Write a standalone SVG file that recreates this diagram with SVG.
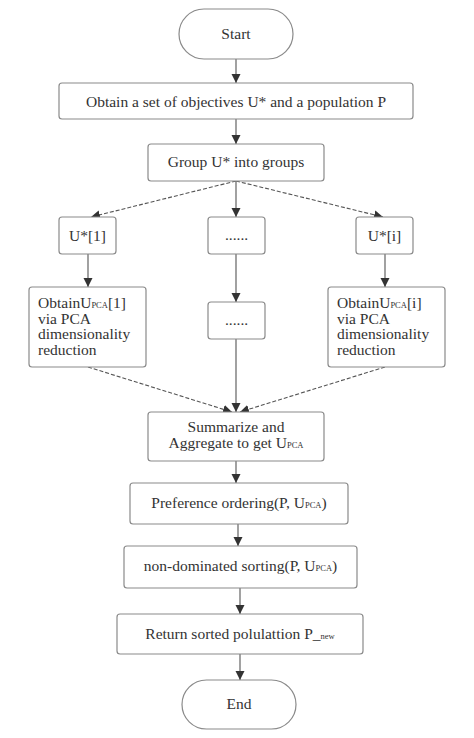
<svg xmlns="http://www.w3.org/2000/svg" width="474" height="738" viewBox="0 0 474 738">
<style>
.box{fill:#fff;stroke:#8a8a8a;stroke-width:1.2}
.t{font-family:"Liberation Serif","DejaVu Serif",serif;font-size:15.5px;fill:#333}
.c{text-anchor:middle}
.sub{font-size:8.5px}
.ln{fill:none;stroke:#555;stroke-width:1.1}
.dash{stroke-dasharray:4 2}
</style>
<defs>
<marker id="ah" markerWidth="10" markerHeight="10" refX="9" refY="5" orient="auto" markerUnits="userSpaceOnUse">
<path d="M0,0.5 L9,5 L0,9.5 Z" fill="#333"/>
</marker>
</defs>
<rect width="474" height="738" fill="#fff"/>
<g id="connectors">
<line class="ln" x1="236" y1="59" x2="236" y2="83" marker-end="url(#ah)"/>
<line class="ln" x1="236" y1="119" x2="236" y2="144" marker-end="url(#ah)"/>
<line class="ln dash" x1="236" y1="181" x2="91" y2="217" marker-end="url(#ah)"/>
<line class="ln" x1="236" y1="181" x2="236" y2="217" marker-end="url(#ah)"/>
<line class="ln dash" x1="236" y1="181" x2="383" y2="217" marker-end="url(#ah)"/>
<line class="ln" x1="88" y1="254" x2="88" y2="287" marker-end="url(#ah)"/>
<line class="ln" x1="236" y1="254" x2="236" y2="302" marker-end="url(#ah)"/>
<line class="ln" x1="385" y1="254" x2="385" y2="287" marker-end="url(#ah)"/>
<line class="ln dash" x1="88" y1="367" x2="232" y2="412" marker-end="url(#ah)"/>
<line class="ln" x1="236" y1="339" x2="236" y2="412" marker-end="url(#ah)"/>
<line class="ln dash" x1="385" y1="367" x2="240" y2="412" marker-end="url(#ah)"/>
<line class="ln" x1="236" y1="461" x2="236" y2="483" marker-end="url(#ah)"/>
<line class="ln" x1="238" y1="524" x2="238" y2="546" marker-end="url(#ah)"/>
<line class="ln" x1="240" y1="588" x2="240" y2="614" marker-end="url(#ah)"/>
<line class="ln" x1="240" y1="654" x2="240" y2="680" marker-end="url(#ah)"/>
</g>
<g id="start">
<rect class="box" x="179" y="9" width="114" height="50" rx="25"/>
<text class="t c" x="236" y="39">Start</text>
</g>
<g id="obtain">
<rect class="box" x="59" y="83" width="354" height="36" rx="3"/>
<text class="t c" x="236" y="107">Obtain a set of objectives U* and a population P</text>
</g>
<g id="group">
<rect class="box" x="148" y="144" width="176" height="37" rx="3"/>
<text class="t c" x="236" y="167">Group U* into groups</text>
</g>
<g id="u1">
<rect class="box" x="59" y="217" width="57" height="37" rx="3"/>
<text class="t c" x="87.5" y="241">U*[1]</text>
</g>
<g id="umid">
<rect class="box" x="208" y="217" width="57" height="37" rx="3"/>
<text class="t c" x="236.5" y="240">......</text>
</g>
<g id="ui">
<rect class="box" x="356" y="217" width="57" height="37" rx="3"/>
<text class="t c" x="384.5" y="241">U*[i]</text>
</g>
<g id="pca1">
<rect class="box" x="29" y="287" width="117" height="80" rx="3"/>
<text class="t" x="38" y="308">ObtainU<tspan class="sub">PCA</tspan>[1]</text>
<text class="t" x="38" y="323.5">via PCA</text>
<text class="t" x="38" y="339">dimensionality</text>
<text class="t" x="38" y="355">reduction</text>
</g>
<g id="pcamid">
<rect class="box" x="208" y="302" width="57" height="37" rx="3"/>
<text class="t c" x="236.5" y="325">......</text>
</g>
<g id="pcai">
<rect class="box" x="328" y="287" width="117" height="80" rx="3"/>
<text class="t" x="337" y="308">ObtainU<tspan class="sub">PCA</tspan>[i]</text>
<text class="t" x="337" y="323.5">via PCA</text>
<text class="t" x="337" y="339">dimensionality</text>
<text class="t" x="337" y="355">reduction</text>
</g>
<g id="summarize">
<rect class="box" x="148" y="412" width="176" height="49" rx="3"/>
<text class="t c" x="236" y="432">Summarize and</text>
<text class="t c" x="236" y="448">Aggregate to get U<tspan class="sub">PCA</tspan></text>
</g>
<g id="preference">
<rect class="box" x="130" y="483" width="218" height="41" rx="3"/>
<text class="t c" x="239" y="508">Preference ordering(P, U<tspan class="sub">PCA</tspan>)</text>
</g>
<g id="nondominated">
<rect class="box" x="124" y="546" width="233" height="42" rx="3"/>
<text class="t c" x="240.5" y="571">non-dominated sorting(P, U<tspan class="sub">PCA</tspan>)</text>
</g>
<g id="return">
<rect class="box" x="117" y="614" width="246" height="40" rx="3"/>
<text class="t c" x="240" y="639">Return sorted polulattion P_<tspan class="sub">new</tspan></text>
</g>
<g id="end">
<rect class="box" x="182" y="680" width="114" height="49" rx="24.5"/>
<text class="t c" x="239" y="709">End</text>
</g>
</svg>
